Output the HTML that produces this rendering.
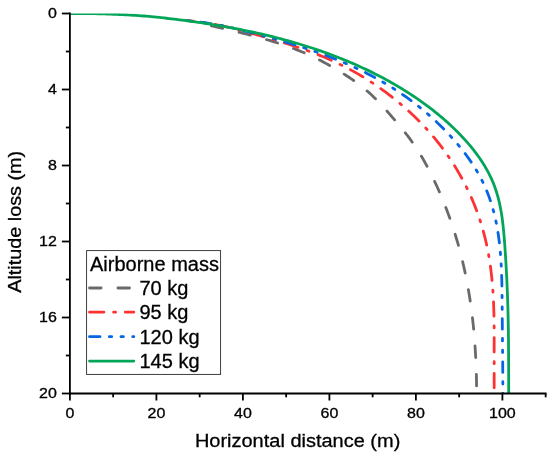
<!DOCTYPE html><html><head><meta charset="utf-8"><title>Altitude loss vs horizontal distance</title>
<style>html,body{margin:0;padding:0;background:#fff}svg{display:block}text{font-family:"Liberation Sans",Arial,Helvetica,sans-serif;fill:#000;stroke:#000;stroke-width:.3px}</style></head><body>
<svg width="550" height="456" viewBox="0 0 550 456">
<rect width="550" height="456" fill="#fff"/>
<defs><clipPath id="c"><rect x="69.90" y="13.50" width="476.75" height="380.00"/></clipPath></defs>
<g clip-path="url(#c)" fill="none" stroke-width="2.8" stroke-linecap="round" stroke-linejoin="round">
<path d="M196.32,22.32 L198.35,22.72 L200.30,23.12 L202.17,23.54 L203.98,23.96 L205.76,24.39 L207.51,24.83 L209.28,25.28 L211.09,25.74 L212.97,26.20 L214.94,26.68 L217.03,27.16 L219.21,27.66 L221.43,28.16 L223.67,28.67 L225.93,29.18 L228.22,29.71 L230.52,30.25 L232.83,30.79 L235.17,31.35 L237.51,31.91 L239.86,32.48 L242.22,33.06 L244.58,33.65 L246.94,34.24 L249.31,34.85 L251.67,35.46 L254.03,36.09 L256.38,36.72 L258.73,37.36 L261.07,38.01 L263.39,38.66 L265.71,39.33 L268.01,40.01 L270.30,40.69 L272.58,41.38 L274.84,42.08 L277.08,42.79 L279.30,43.51 L281.51,44.24 L283.70,44.98 L285.87,45.72 L288.01,46.48 L290.13,47.24 L292.23,48.01 L294.30,48.79 L296.35,49.58 L298.37,50.38 L300.36,51.18 L302.33,52.00 L304.26,52.82 L306.17,53.65 L308.06,54.49 L309.93,55.34 L311.77,56.20 L313.59,57.07 L315.39,57.94 L317.17,58.83 L318.94,59.72 L320.69,60.62 L322.43,61.53 L324.15,62.45 L325.86,63.38 L327.56,64.32 L329.25,65.26 L330.93,66.22 L332.61,67.18 L334.27,68.15 L335.94,69.13 L337.60,70.12 L339.25,71.12 L340.89,72.12 L342.53,73.14 L344.15,74.16 L345.77,75.20 L347.37,76.24 L348.96,77.29 L350.54,78.35 L352.10,79.41 L353.65,80.49 L355.18,81.57 L356.69,82.67 L358.19,83.77 L359.66,84.88 L361.11,86.00 L362.54,87.13 L363.95,88.27 L365.33,89.41 L366.69,90.57 L368.03,91.73 L369.34,92.90 L370.63,94.08 L371.90,95.27 L373.16,96.47 L374.39,97.68 L375.62,98.89 L376.83,100.12 L378.02,101.35 L379.21,102.59 L380.39,103.84 L381.56,105.10 L382.72,106.37 L383.88,107.65 L385.03,108.93 L386.19,110.22 L387.34,111.53 L388.50,112.84 L389.66,114.16 L390.82,115.49 L391.98,116.83 L393.15,118.17 L394.32,119.53 L395.49,120.89 L396.66,122.26 L397.82,123.64 L398.99,125.03 L400.15,126.43 L401.30,127.84 L402.45,129.26 L403.60,130.68 L404.74,132.11 L405.87,133.56 L406.99,135.01 L408.10,136.47 L409.20,137.93 L410.29,139.41 L411.36,140.90 L412.42,142.39 L413.47,143.89 L414.50,145.41 L415.52,146.93 L416.53,148.46 L417.52,149.99 L418.51,151.54 L419.48,153.10 L420.43,154.66 L421.38,156.23 L422.31,157.81 L423.24,159.40 L424.15,161.00 L425.05,162.61 L425.94,164.23 L426.83,165.85 L427.70,167.49 L428.56,169.13 L429.42,170.78 L430.27,172.44 L431.10,174.11 L431.94,175.79 L432.76,177.47 L433.58,179.17 L434.39,180.87 L435.19,182.58 L435.99,184.30 L436.78,186.03 L437.56,187.77 L438.34,189.52 L439.12,191.27 L439.89,193.04 L440.65,194.81 L441.40,196.59 L442.15,198.38 L442.89,200.18 L443.63,201.99 L444.36,203.81 L445.08,205.63 L445.80,207.47 L446.51,209.31 L447.21,211.16 L447.90,213.02 L448.59,214.89 L449.27,216.77 L449.95,218.66 L450.61,220.55 L451.27,222.46 L451.92,224.37 L452.57,226.29 L453.21,228.22 L453.83,230.16 L454.46,232.11 L455.07,234.06 L455.67,236.03 L456.27,238.00 L456.86,239.98 L457.44,241.97 L458.02,243.97 L458.58,245.98 L459.14,248.00 L459.68,250.02 L460.22,252.06 L460.75,254.10 L461.28,256.15 L461.79,258.22 L462.30,260.29 L462.79,262.36 L463.28,264.45 L463.76,266.55 L464.23,268.65 L464.69,270.76 L465.15,272.88 L465.59,275.02 L466.03,277.15 L466.46,279.30 L466.88,281.46 L467.29,283.62 L467.69,285.80 L468.08,287.98 L468.46,290.17 L468.84,292.37 L469.20,294.58 L469.56,296.80 L469.91,299.03 L470.25,301.26 L470.58,303.50 L470.90,305.76 L471.21,308.02 L471.51,310.29 L471.81,312.57 L472.09,314.85 L472.37,317.15 L472.63,319.45 L472.89,321.77 L473.14,324.09 L473.38,326.42 L473.61,328.76 L473.83,331.11 L474.04,333.47 L474.25,335.83 L474.44,338.21 L474.63,340.59 L474.81,342.98 L474.98,345.38 L475.14,347.79 L475.29,350.21 L475.43,352.64 L475.57,355.07 L475.70,357.52 L475.81,359.97 L475.93,362.43 L476.03,364.90 L476.12,367.38 L476.21,369.87 L476.29,372.36 L476.36,374.87 L476.42,377.38 L476.48,379.90 L476.52,382.44 L476.56,384.98 L476.60,387.52 L476.62,390.08 L476.64,392.65 L476.65,395.22 L476.65,397.81 L476.65,400.40 L476.65,403.00" stroke="#6a6a6a" stroke-dasharray="11.6 16.82" stroke-dashoffset="126.65"/>
<path d="M186.51,20.47 L189.55,20.82 L192.59,21.19 L195.59,21.56 L198.54,21.93 L201.43,22.32 L204.24,22.72 L206.97,23.12 L209.60,23.54 L212.14,23.96 L214.58,24.39 L216.93,24.83 L219.19,25.28 L221.38,25.74 L223.50,26.20 L225.57,26.68 L227.62,27.16 L229.67,27.66 L231.71,28.16 L233.75,28.67 L235.80,29.18 L237.85,29.71 L239.91,30.25 L241.99,30.79 L244.07,31.35 L246.17,31.91 L248.29,32.48 L250.43,33.06 L252.58,33.65 L254.76,34.24 L256.95,34.85 L259.15,35.46 L261.37,36.09 L263.59,36.72 L265.83,37.36 L268.08,38.01 L270.34,38.66 L272.61,39.33 L274.88,40.01 L277.15,40.69 L279.43,41.38 L281.72,42.08 L284.00,42.79 L286.28,43.51 L288.57,44.24 L290.84,44.98 L293.12,45.72 L295.39,46.48 L297.65,47.24 L299.91,48.01 L302.16,48.79 L304.40,49.58 L306.62,50.38 L308.84,51.18 L311.04,52.00 L313.22,52.82 L315.39,53.65 L317.55,54.49 L319.68,55.34 L321.79,56.20 L323.89,57.07 L325.96,57.94 L328.01,58.83 L330.04,59.72 L332.05,60.62 L334.05,61.53 L336.02,62.45 L337.98,63.38 L339.91,64.32 L341.83,65.26 L343.73,66.22 L345.62,67.18 L347.48,68.15 L349.33,69.13 L351.17,70.12 L352.99,71.12 L354.79,72.12 L356.58,73.14 L358.35,74.16 L360.11,75.20 L361.86,76.24 L363.59,77.29 L365.31,78.35 L367.02,79.41 L368.71,80.49 L370.39,81.57 L372.06,82.67 L373.72,83.77 L375.37,84.88 L377.00,86.00 L378.63,87.13 L380.25,88.27 L381.85,89.41 L383.45,90.57 L385.04,91.73 L386.62,92.90 L388.19,94.08 L389.75,95.27 L391.30,96.47 L392.84,97.68 L394.37,98.89 L395.90,100.12 L397.41,101.35 L398.91,102.59 L400.40,103.84 L401.89,105.10 L403.36,106.37 L404.82,107.65 L406.28,108.93 L407.72,110.22 L409.15,111.53 L410.58,112.84 L411.99,114.16 L413.39,115.49 L414.78,116.83 L416.17,118.17 L417.54,119.53 L418.90,120.89 L420.25,122.26 L421.59,123.64 L422.92,125.03 L424.23,126.43 L425.54,127.84 L426.84,129.26 L428.12,130.68 L429.40,132.11 L430.66,133.56 L431.92,135.01 L433.16,136.47 L434.39,137.93 L435.61,139.41 L436.82,140.90 L438.01,142.39 L439.20,143.89 L440.37,145.41 L441.53,146.93 L442.69,148.46 L443.83,149.99 L444.95,151.54 L446.07,153.10 L447.18,154.66 L448.27,156.23 L449.35,157.81 L450.42,159.40 L451.48,161.00 L452.53,162.61 L453.56,164.23 L454.59,165.85 L455.60,167.49 L456.60,169.13 L457.58,170.78 L458.56,172.44 L459.52,174.11 L460.47,175.79 L461.41,177.47 L462.34,179.17 L463.25,180.87 L464.15,182.58 L465.04,184.30 L465.92,186.03 L466.78,187.77 L467.63,189.52 L468.47,191.27 L469.30,193.04 L470.11,194.81 L470.91,196.59 L471.70,198.38 L472.48,200.18 L473.24,201.99 L473.99,203.81 L474.72,205.63 L475.44,207.47 L476.15,209.31 L476.84,211.16 L477.52,213.02 L478.19,214.89 L478.84,216.77 L479.48,218.66 L480.11,220.55 L480.72,222.46 L481.31,224.37 L481.90,226.29 L482.46,228.22 L483.02,230.16 L483.55,232.11 L484.08,234.06 L484.59,236.03 L485.08,238.00 L485.56,239.98 L486.02,241.97 L486.47,243.97 L486.91,245.98 L487.33,248.00 L487.73,250.02 L488.12,252.06 L488.49,254.10 L488.85,256.15 L489.19,258.22 L489.53,260.29 L489.84,262.36 L490.15,264.45 L490.44,266.55 L490.72,268.65 L490.98,270.76 L491.23,272.88 L491.47,275.02 L491.70,277.15 L491.92,279.30 L492.12,281.46 L492.31,283.62 L492.50,285.80 L492.67,287.98 L492.83,290.17 L492.98,292.37 L493.12,294.58 L493.25,296.80 L493.37,299.03 L493.48,301.26 L493.58,303.50 L493.67,305.76 L493.76,308.02 L493.83,310.29 L493.90,312.57 L493.96,314.85 L494.01,317.15 L494.05,319.45 L494.09,321.77 L494.12,324.09 L494.14,326.42 L494.15,328.76 L494.17,331.11 L494.17,333.47 L494.17,335.83 L494.17,338.21 L494.17,340.59 L494.17,342.98 L494.17,345.38 L494.17,347.79 L494.17,350.21 L494.17,352.64 L494.17,355.07 L494.17,357.52 L494.17,359.97 L494.17,362.43 L494.17,364.90 L494.17,367.38 L494.17,369.87 L494.17,372.36 L494.17,374.87 L494.17,377.38 L494.17,379.90 L494.17,382.44 L494.17,384.98 L494.17,387.52 L494.17,390.08 L494.17,392.65 L494.17,395.22 L494.17,397.81 L494.17,400.40 L494.17,403.00" stroke="#fd3232" stroke-dasharray="14.4 9.7 2.0 9.7" stroke-dashoffset="114.37"/>
<path d="M186.64,20.47 L189.73,20.82 L192.82,21.19 L195.89,21.56 L198.92,21.93 L201.89,22.32 L204.80,22.72 L207.62,23.12 L210.37,23.54 L213.02,23.96 L215.57,24.39 L218.04,24.83 L220.42,25.28 L222.72,25.74 L224.95,26.20 L227.12,26.68 L229.25,27.16 L231.37,27.66 L233.49,28.16 L235.61,28.67 L237.74,29.18 L239.87,29.71 L242.02,30.25 L244.17,30.79 L246.34,31.35 L248.52,31.91 L250.72,32.48 L252.94,33.06 L255.18,33.65 L257.44,34.24 L259.71,34.85 L262.00,35.46 L264.30,36.09 L266.62,36.72 L268.95,37.36 L271.29,38.01 L273.64,38.66 L276.00,39.33 L278.37,40.01 L280.74,40.69 L283.12,41.38 L285.51,42.08 L287.90,42.79 L290.29,43.51 L292.68,44.24 L295.07,44.98 L297.47,45.72 L299.86,46.48 L302.25,47.24 L304.63,48.01 L307.01,48.79 L309.38,49.58 L311.75,50.38 L314.11,51.18 L316.46,52.00 L318.79,52.82 L321.12,53.65 L323.43,54.49 L325.73,55.34 L328.02,56.20 L330.29,57.07 L332.54,57.94 L334.78,58.83 L337.00,59.72 L339.21,60.62 L341.40,61.53 L343.57,62.45 L345.73,63.38 L347.88,64.32 L350.00,65.26 L352.12,66.22 L354.22,67.18 L356.30,68.15 L358.37,69.13 L360.42,70.12 L362.46,71.12 L364.48,72.12 L366.49,73.14 L368.48,74.16 L370.46,75.20 L372.42,76.24 L374.37,77.29 L376.31,78.35 L378.23,79.41 L380.13,80.49 L382.02,81.57 L383.90,82.67 L385.77,83.77 L387.61,84.88 L389.45,86.00 L391.27,87.13 L393.08,88.27 L394.87,89.41 L396.65,90.57 L398.42,91.73 L400.17,92.90 L401.91,94.08 L403.63,95.27 L405.34,96.47 L407.04,97.68 L408.73,98.89 L410.40,100.12 L412.06,101.35 L413.70,102.59 L415.34,103.84 L416.96,105.10 L418.56,106.37 L420.16,107.65 L421.74,108.93 L423.31,110.22 L424.87,111.53 L426.41,112.84 L427.94,114.16 L429.46,115.49 L430.97,116.83 L432.47,118.17 L433.95,119.53 L435.42,120.89 L436.88,122.26 L438.33,123.64 L439.77,125.03 L441.19,126.43 L442.61,127.84 L444.01,129.26 L445.40,130.68 L446.78,132.11 L448.15,133.56 L449.50,135.01 L450.85,136.47 L452.18,137.93 L453.50,139.41 L454.80,140.90 L456.10,142.39 L457.38,143.89 L458.64,145.41 L459.89,146.93 L461.13,148.46 L462.35,149.99 L463.56,151.54 L464.75,153.10 L465.92,154.66 L467.08,156.23 L468.22,157.81 L469.34,159.40 L470.44,161.00 L471.53,162.61 L472.60,164.23 L473.65,165.85 L474.68,167.49 L475.69,169.13 L476.68,170.78 L477.65,172.44 L478.60,174.11 L479.53,175.79 L480.44,177.47 L481.32,179.17 L482.19,180.87 L483.03,182.58 L483.85,184.30 L484.65,186.03 L485.42,187.77 L486.17,189.52 L486.90,191.27 L487.60,193.04 L488.29,194.81 L488.95,196.59 L489.60,198.38 L490.22,200.18 L490.82,201.99 L491.40,203.81 L491.96,205.63 L492.50,207.47 L493.03,209.31 L493.53,211.16 L494.02,213.02 L494.48,214.89 L494.93,216.77 L495.37,218.66 L495.78,220.55 L496.18,222.46 L496.56,224.37 L496.92,226.29 L497.27,228.22 L497.61,230.16 L497.92,232.11 L498.23,234.06 L498.51,236.03 L498.79,238.00 L499.04,239.98 L499.29,241.97 L499.52,243.97 L499.74,245.98 L499.94,248.00 L500.14,250.02 L500.32,252.06 L500.49,254.10 L500.64,256.15 L500.79,258.22 L500.93,260.29 L501.05,262.36 L501.17,264.45 L501.28,266.55 L501.38,268.65 L501.47,270.76 L501.55,272.88 L501.63,275.02 L501.70,277.15 L501.76,279.30 L501.82,281.46 L501.87,283.62 L501.91,285.80 L501.95,287.98 L501.99,290.17 L502.02,292.37 L502.05,294.58 L502.08,296.80 L502.10,299.03 L502.12,301.26 L502.14,303.50 L502.16,305.76 L502.18,308.02 L502.19,310.29 L502.21,312.57 L502.23,314.85 L502.25,317.15 L502.27,319.45 L502.29,321.77 L502.31,324.09 L502.33,326.42 L502.35,328.76 L502.38,331.11 L502.40,333.47 L502.43,335.83 L502.45,338.21 L502.48,340.59 L502.51,342.98 L502.53,345.38 L502.56,347.79 L502.58,350.21 L502.61,352.64 L502.63,355.07 L502.66,357.52 L502.68,359.97 L502.70,362.43 L502.72,364.90 L502.74,367.38 L502.76,369.87 L502.78,372.36 L502.79,374.87 L502.81,377.38 L502.82,379.90 L502.83,382.44 L502.84,384.98 L502.84,387.52 L502.85,390.08 L502.85,392.65 L502.85,395.22 L502.85,397.81 L502.85,400.40 L502.85,403.00" stroke="#0566e4" stroke-dasharray="10.5 9.3 2.4 9.3 2.4 9.3" stroke-dashoffset="115.40"/>
<path d="M68.93,13.50 L72.89,13.50 L76.76,13.52 L80.52,13.54 L84.19,13.57 L87.78,13.61 L91.27,13.66 L94.69,13.71 L98.02,13.78 L101.28,13.85 L104.47,13.94 L107.59,14.03 L110.65,14.13 L113.65,14.24 L116.59,14.35 L119.47,14.48 L122.31,14.62 L125.10,14.76 L127.85,14.91 L130.56,15.07 L133.23,15.24 L135.88,15.42 L138.49,15.61 L141.08,15.80 L143.65,16.01 L146.20,16.22 L148.74,16.45 L151.27,16.68 L153.80,16.92 L156.32,17.16 L158.84,17.42 L161.37,17.69 L163.90,17.96 L166.45,18.24 L169.01,18.54 L171.59,18.84 L174.18,19.15 L176.79,19.46 L179.41,19.79 L182.04,20.13 L184.68,20.47 L187.33,20.82 L189.98,21.19 L192.65,21.56 L195.33,21.93 L198.01,22.32 L200.70,22.72 L203.39,23.12 L206.09,23.54 L208.79,23.96 L211.49,24.39 L214.20,24.83 L216.91,25.28 L219.61,25.74 L222.32,26.20 L225.02,26.68 L227.73,27.16 L230.43,27.66 L233.12,28.16 L235.82,28.67 L238.50,29.18 L241.18,29.71 L243.85,30.25 L246.52,30.79 L249.18,31.35 L251.82,31.91 L254.46,32.48 L257.08,33.06 L259.70,33.65 L262.30,34.24 L264.89,34.85 L267.47,35.46 L270.04,36.09 L272.60,36.72 L275.15,37.36 L277.68,38.01 L280.21,38.66 L282.72,39.33 L285.22,40.01 L287.71,40.69 L290.19,41.38 L292.66,42.08 L295.11,42.79 L297.56,43.51 L299.99,44.24 L302.41,44.98 L304.82,45.72 L307.22,46.48 L309.60,47.24 L311.98,48.01 L314.34,48.79 L316.69,49.58 L319.03,50.38 L321.36,51.18 L323.67,52.00 L325.98,52.82 L328.27,53.65 L330.55,54.49 L332.82,55.34 L335.07,56.20 L337.32,57.07 L339.55,57.94 L341.77,58.83 L343.98,59.72 L346.17,60.62 L348.36,61.53 L350.53,62.45 L352.69,63.38 L354.84,64.32 L356.98,65.26 L359.10,66.22 L361.22,67.18 L363.32,68.15 L365.41,69.13 L367.49,70.12 L369.56,71.12 L371.61,72.12 L373.66,73.14 L375.69,74.16 L377.71,75.20 L379.72,76.24 L381.72,77.29 L383.70,78.35 L385.68,79.41 L387.64,80.49 L389.59,81.57 L391.53,82.67 L393.46,83.77 L395.38,84.88 L397.28,86.00 L399.18,87.13 L401.06,88.27 L402.94,89.41 L404.80,90.57 L406.65,91.73 L408.48,92.90 L410.31,94.08 L412.12,95.27 L413.93,96.47 L415.72,97.68 L417.50,98.89 L419.26,100.12 L421.02,101.35 L422.76,102.59 L424.49,103.84 L426.20,105.10 L427.90,106.37 L429.59,107.65 L431.27,108.93 L432.94,110.22 L434.59,111.53 L436.22,112.84 L437.85,114.16 L439.46,115.49 L441.05,116.83 L442.63,118.17 L444.20,119.53 L445.75,120.89 L447.29,122.26 L448.82,123.64 L450.33,125.03 L451.82,126.43 L453.30,127.84 L454.77,129.26 L456.22,130.68 L457.65,132.11 L459.07,133.56 L460.48,135.01 L461.87,136.47 L463.24,137.93 L464.59,139.41 L465.93,140.90 L467.25,142.39 L468.55,143.89 L469.83,145.41 L471.09,146.93 L472.33,148.46 L473.55,149.99 L474.76,151.54 L475.94,153.10 L477.10,154.66 L478.23,156.23 L479.35,157.81 L480.44,159.40 L481.51,161.00 L482.55,162.61 L483.57,164.23 L484.57,165.85 L485.54,167.49 L486.48,169.13 L487.40,170.78 L488.29,172.44 L489.16,174.11 L490.00,175.79 L490.81,177.47 L491.59,179.17 L492.35,180.87 L493.07,182.58 L493.77,184.30 L494.43,186.03 L495.07,187.77 L495.67,189.52 L496.25,191.27 L496.81,193.04 L497.33,194.81 L497.84,196.59 L498.31,198.38 L498.77,200.18 L499.20,201.99 L499.61,203.81 L500.00,205.63 L500.37,207.47 L500.72,209.31 L501.05,211.16 L501.36,213.02 L501.66,214.89 L501.94,216.77 L502.21,218.66 L502.46,220.55 L502.70,222.46 L502.92,224.37 L503.14,226.29 L503.34,228.22 L503.54,230.16 L503.72,232.11 L503.90,234.06 L504.07,236.03 L504.23,238.00 L504.39,239.98 L504.54,241.97 L504.69,243.97 L504.83,245.98 L504.97,248.00 L505.11,250.02 L505.25,252.06 L505.38,254.10 L505.52,256.15 L505.65,258.22 L505.77,260.29 L505.90,262.36 L506.02,264.45 L506.14,266.55 L506.26,268.65 L506.37,270.76 L506.49,272.88 L506.59,275.02 L506.70,277.15 L506.81,279.30 L506.91,281.46 L507.00,283.62 L507.10,285.80 L507.19,287.98 L507.28,290.17 L507.37,292.37 L507.45,294.58 L507.53,296.80 L507.61,299.03 L507.69,301.26 L507.76,303.50 L507.83,305.76 L507.89,308.02 L507.95,310.29 L508.01,312.57 L508.07,314.85 L508.12,317.15 L508.17,319.45 L508.21,321.77 L508.26,324.09 L508.29,326.42 L508.33,328.76 L508.37,331.11 L508.40,333.47 L508.43,335.83 L508.45,338.21 L508.48,340.59 L508.50,342.98 L508.52,345.38 L508.54,347.79 L508.56,350.21 L508.57,352.64 L508.58,355.07 L508.60,357.52 L508.61,359.97 L508.62,362.43 L508.63,364.90 L508.64,367.38 L508.64,369.87 L508.65,372.36 L508.66,374.87 L508.66,377.38 L508.67,379.90 L508.68,382.44 L508.68,384.98 L508.69,387.52 L508.70,390.08 L508.70,392.65 L508.71,395.22 L508.72,397.81 L508.73,400.40 L508.74,403.00" stroke="#03a659"/>
</g>
<g stroke="#000" stroke-width="1.80" fill="none" stroke-linecap="butt">
<path d="M69.90,12.60 V394.40"/>
<path d="M69.00,393.50 H546.55"/>
<path d="M69.90,13.50 H61.90"/>
<path d="M69.90,51.50 H65.90"/>
<path d="M69.90,89.50 H61.90"/>
<path d="M69.90,127.50 H65.90"/>
<path d="M69.90,165.50 H61.90"/>
<path d="M69.90,203.50 H65.90"/>
<path d="M69.90,241.50 H61.90"/>
<path d="M69.90,279.50 H65.90"/>
<path d="M69.90,317.50 H61.90"/>
<path d="M69.90,355.50 H65.90"/>
<path d="M69.90,393.50 H61.90"/>
<path d="M69.90,393.50 V400.50"/>
<path d="M113.15,393.50 V397.30"/>
<path d="M156.40,393.50 V400.50"/>
<path d="M199.65,393.50 V397.30"/>
<path d="M242.90,393.50 V400.50"/>
<path d="M286.15,393.50 V397.30"/>
<path d="M329.40,393.50 V400.50"/>
<path d="M372.65,393.50 V397.30"/>
<path d="M415.90,393.50 V400.50"/>
<path d="M459.15,393.50 V397.30"/>
<path d="M502.40,393.50 V400.50"/>
<path d="M545.65,393.50 V397.30"/>
</g>
<g font-size="14.50">
<text x="48.00" y="18.20" textLength="8.9" lengthAdjust="spacingAndGlyphs">0</text>
<text x="48.00" y="94.20" textLength="8.9" lengthAdjust="spacingAndGlyphs">4</text>
<text x="48.00" y="170.20" textLength="8.9" lengthAdjust="spacingAndGlyphs">8</text>
<text x="39.10" y="246.20" textLength="17.8" lengthAdjust="spacingAndGlyphs">12</text>
<text x="39.10" y="322.20" textLength="17.8" lengthAdjust="spacingAndGlyphs">16</text>
<text x="39.10" y="398.20" textLength="17.8" lengthAdjust="spacingAndGlyphs">20</text>
<text x="65.45" y="418.2" textLength="8.9" lengthAdjust="spacingAndGlyphs">0</text>
<text x="147.50" y="418.2" textLength="17.8" lengthAdjust="spacingAndGlyphs">20</text>
<text x="234.00" y="418.2" textLength="17.8" lengthAdjust="spacingAndGlyphs">40</text>
<text x="320.50" y="418.2" textLength="17.8" lengthAdjust="spacingAndGlyphs">60</text>
<text x="407.00" y="418.2" textLength="17.8" lengthAdjust="spacingAndGlyphs">80</text>
<text x="489.05" y="418.2" textLength="26.7" lengthAdjust="spacingAndGlyphs">100</text>
</g>
<text x="297.6" y="447.4" font-size="19.2" text-anchor="middle" textLength="205.4" lengthAdjust="spacingAndGlyphs">Horizontal distance (m)</text>
<text transform="translate(20.7,221.8) rotate(-90)" font-size="19.2" text-anchor="middle" textLength="142" lengthAdjust="spacingAndGlyphs">Altitude loss (m)</text>
<rect x="86.6" y="250.6" width="134" height="123.8" fill="#fff" stroke="#2a2a2a" stroke-width="0.9"/>
<text x="90" y="270.6" font-size="20.00">Airborne mass</text>
<g fill="none" stroke-width="2.8" stroke-linecap="round">
<path d="M89.5,288.0 H129.7" stroke="#6a6a6a" stroke-dasharray="11.6 16.82"/>
<path d="M89.5,312.2 H133.8" stroke="#fd3232" stroke-dasharray="14.4 9.7 2.0 9.7"/>
<path d="M89.5,336.7 H133.8" stroke="#0566e4" stroke-dasharray="10.5 9.3 2.4 9.3 2.4 9.3"/>
<path d="M89.5,361.1 H133.8" stroke="#03a659"/>
</g>
<g font-size="20.00">
<text x="139.5" y="294.8">70 kg</text>
<text x="139.5" y="319.0">95 kg</text>
<text x="139.5" y="343.5">120 kg</text>
<text x="139.5" y="367.9">145 kg</text>
</g>
</svg></body></html>
